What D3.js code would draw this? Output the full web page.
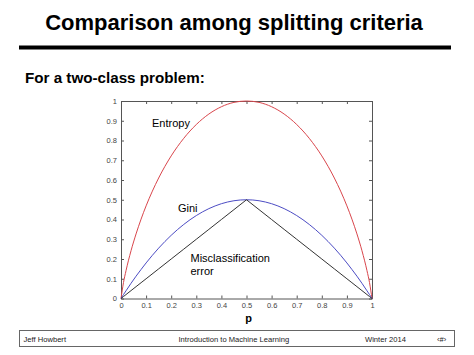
<!DOCTYPE html>
<html>
<head>
<meta charset="utf-8">
<script src="https://cdn.jsdelivr.net/npm/d3@7"></script>
<style>
  html, body { margin: 0; padding: 0; background: #fff; }
  svg { display: block; }
  text { font-family: "Liberation Sans", Arial, sans-serif; }
</style>
</head>
<body>
<svg id="chart" width="474" height="355"></svg>
<script>
// ---- data ----
const pValues = [0, 0.01, 0.02, 0.04, 0.06, 0.08, 0.1, 0.15, 0.2, 0.25, 0.3, 0.35, 0.4, 0.45, 0.5,
                 0.55, 0.6, 0.65, 0.7, 0.75, 0.8, 0.85, 0.9, 0.92, 0.94, 0.96, 0.98, 0.99, 1];
const entropyValues = [0, 0.081, 0.141, 0.242, 0.327, 0.402, 0.469, 0.610, 0.722, 0.811, 0.881, 0.934, 0.971, 0.993, 1,
                       0.993, 0.971, 0.934, 0.881, 0.811, 0.722, 0.610, 0.469, 0.402, 0.327, 0.242, 0.141, 0.081, 0];
const giniValues = [0, 0.020, 0.039, 0.077, 0.113, 0.147, 0.180, 0.255, 0.320, 0.375, 0.420, 0.455, 0.480, 0.495, 0.5,
                    0.495, 0.480, 0.455, 0.420, 0.375, 0.320, 0.255, 0.180, 0.147, 0.113, 0.077, 0.039, 0.020, 0];
const misclassValues = [0, 0.01, 0.02, 0.04, 0.06, 0.08, 0.1, 0.15, 0.2, 0.25, 0.3, 0.35, 0.4, 0.45, 0.5,
                        0.45, 0.4, 0.35, 0.3, 0.25, 0.2, 0.15, 0.1, 0.08, 0.06, 0.04, 0.02, 0.01, 0];
const tickValues = [0, 0.1, 0.2, 0.3, 0.4, 0.5, 0.6, 0.7, 0.8, 0.9, 1];
const tickLabels = ["0", "0.1", "0.2", "0.3", "0.4", "0.5", "0.6", "0.7", "0.8", "0.9", "1"];
const seriesNames = ["Entropy", "Gini", "Misclassification error"];

const svg = d3.select("#chart");
const plot = { left: 121, right: 372, top: 101, bottom: 298.5 };

const x = d3.scaleLinear().domain([0, 1]).range([plot.left, plot.right]);
const y = d3.scaleLinear().domain([0, 1]).range([plot.bottom, plot.top]);

// ---- slide title ----
svg.append("text").attr("x", 234).attr("y", 30).attr("text-anchor", "middle")
  .style("font-size", "22px").style("font-weight", "bold").attr("fill", "#000")
  .text("Comparison among splitting criteria");
svg.append("line").attr("x1", 19).attr("x2", 451).attr("y1", 47.5).attr("y2", 47.5)
  .attr("stroke", "#000").attr("stroke-width", 4);
svg.append("text").attr("x", 25).attr("y", 83)
  .style("font-size", "15.2px").style("font-weight", "bold").attr("fill", "#000")
  .text("For a two-class problem:");

// ---- axes (MATLAB-style box with inward ticks) ----
const fmt = (d) => tickLabels[tickValues.indexOf(d)];
const axisColor = "#555";
function styleAxis(g) {
  g.selectAll("path.domain").attr("stroke", axisColor).attr("stroke-width", 1);
  g.selectAll(".tick line").attr("stroke", axisColor);
  g.selectAll(".tick text").attr("fill", "#444").style("font-size", "7.5px")
    .style("font-family", "'Liberation Sans', Arial, sans-serif");
}
svg.append("g").attr("transform", `translate(0,${plot.bottom})`)
  .call(d3.axisBottom(x).tickValues(tickValues).tickFormat(fmt).tickSizeInner(-3).tickSizeOuter(0).tickPadding(4))
  .call(styleAxis);
svg.append("g").attr("transform", `translate(${plot.left},0)`)
  .call(d3.axisLeft(y).tickValues(tickValues).tickFormat(fmt).tickSizeInner(-3).tickSizeOuter(0).tickPadding(4))
  .call(styleAxis);
svg.append("g").attr("transform", `translate(0,${plot.top})`)
  .call(d3.axisTop(x).tickValues(tickValues).tickFormat("").tickSizeInner(-3).tickSizeOuter(0))
  .call(styleAxis);
svg.append("g").attr("transform", `translate(${plot.right},0)`)
  .call(d3.axisRight(y).tickValues(tickValues).tickFormat("").tickSizeInner(-3).tickSizeOuter(0))
  .call(styleAxis);

// ---- curves ----
const series = [
  { name: seriesNames[0], values: entropyValues, color: "#d9464c", curve: d3.curveMonotoneX },
  { name: seriesNames[1], values: giniValues, color: "#4c4cc4", curve: d3.curveMonotoneX },
  { name: seriesNames[2], values: misclassValues, color: "#333333", curve: d3.curveLinear }
];
series.forEach(s => {
  const line = d3.line().x((d, i) => x(pValues[i])).y(d => y(d)).curve(s.curve);
  svg.append("path").datum(s.values).attr("d", line)
    .attr("fill", "none").attr("stroke", s.color).attr("stroke-width", 1);
});

// ---- curve labels ----
svg.append("text").attr("x", 152).attr("y", 126.5).style("font-size", "11px").attr("fill", "#000").text("Entropy");
svg.append("text").attr("x", 178).attr("y", 211.5).style("font-size", "11px").attr("fill", "#000").text("Gini");
svg.append("text").attr("x", 190.5).attr("y", 262).style("font-size", "11px").attr("fill", "#000").text("Misclassification");
svg.append("text").attr("x", 190.5).attr("y", 274.5).style("font-size", "11px").attr("fill", "#000").text("error");

// ---- x label ----
svg.append("text").attr("x", 248.5).attr("y", 321.5).attr("text-anchor", "middle")
  .style("font-size", "11px").style("font-weight", "bold").attr("fill", "#000").text("p");

// ---- footer ----
svg.append("rect").attr("x", 19.5).attr("y", 330.5).attr("width", 435).attr("height", 16)
  .attr("fill", "none").attr("stroke", "#666").attr("stroke-width", 1);
const footer = svg.append("g").style("font-size", "7.6px").attr("fill", "#222");
footer.append("text").attr("x", 23.5).attr("y", 341.5).text("Jeff Howbert");
footer.append("text").attr("x", 178.5).attr("y", 341.5).text("Introduction to Machine Learning");
footer.append("text").attr("x", 365).attr("y", 341.5).text("Winter 2014");
footer.append("text").attr("x", 437).attr("y", 341.5).text("‹#›");
</script>
</body>
</html>
